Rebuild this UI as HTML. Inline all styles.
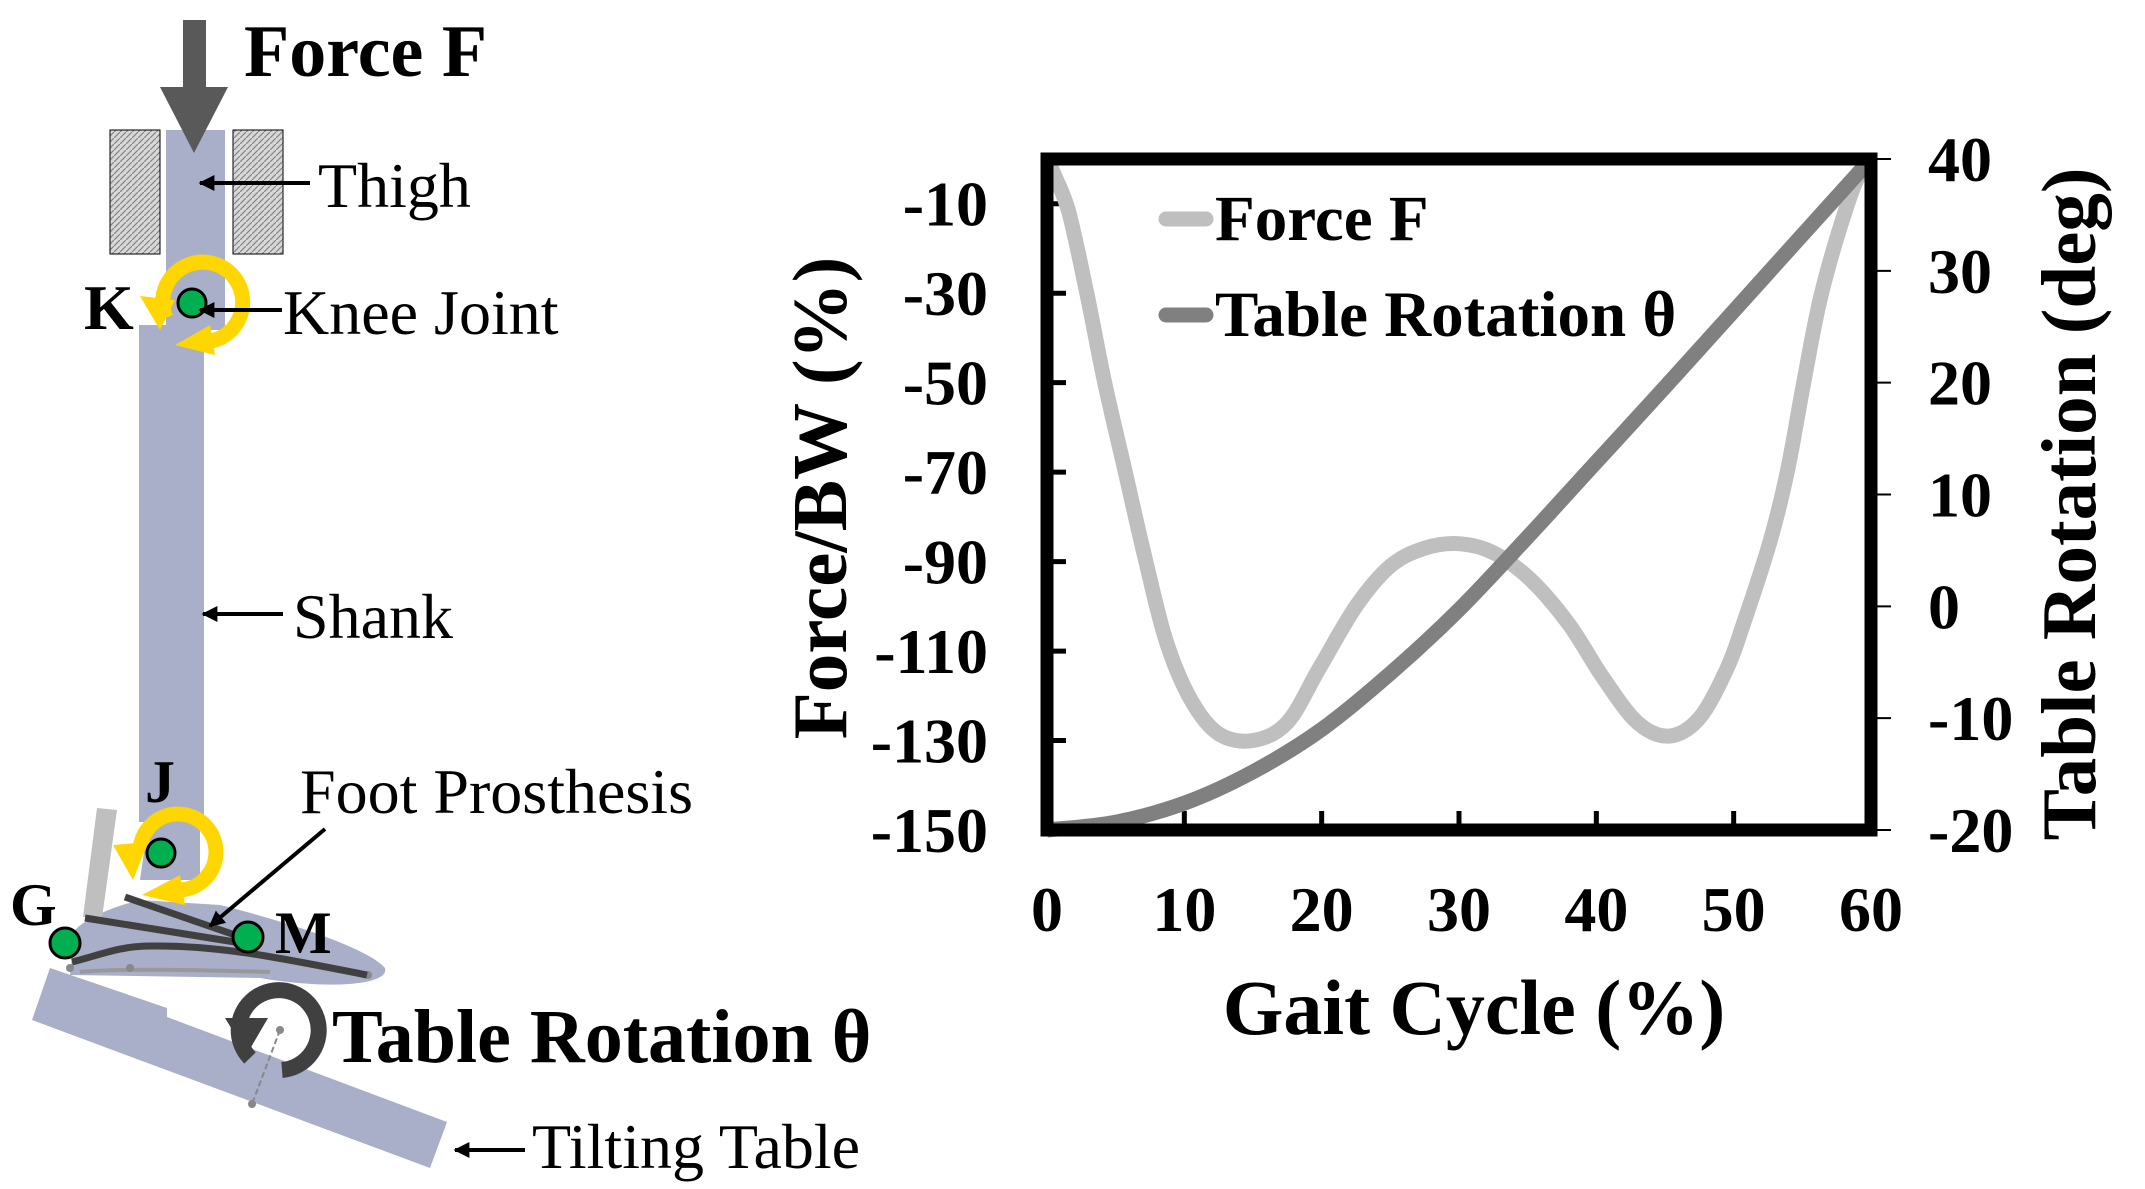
<!DOCTYPE html>
<html><head><meta charset="utf-8"><style>
html,body{margin:0;padding:0;background:#fff;}
svg{display:block;}
text{font-family:"Liberation Serif","Times New Roman",serif;}
.b{font-weight:bold;}
</style></head><body>
<svg id="s" width="2145" height="1189" viewBox="0 0 2145 1189" xmlns="http://www.w3.org/2000/svg">
<defs>
<pattern id="hatch" width="6" height="6" patternUnits="userSpaceOnUse">
<rect width="6" height="6" fill="#d8d8d8"/>
<path d="M0,6 L6,0" stroke="#888" stroke-width="1.3"/>
</pattern>
<marker id="ah" viewBox="0 0 10 10" refX="9" refY="5" markerWidth="4" markerHeight="4" orient="auto"><path d="M0,0 L10,5 L0,10 z" fill="#000"/></marker>
</defs>

<polygon points="50,968 167,1008 167,1017 447,1122 430,1168 32,1020" fill="#a9aec9"/>
<line x1="280" y1="1030" x2="252" y2="1104" stroke="#888" stroke-width="2" stroke-dasharray="6,3"/>
<circle cx="280" cy="1030" r="4" fill="#888"/><circle cx="252" cy="1104" r="4" fill="#888"/>
<path d="M75,930 C90,915 120,905 140,900 L220,905 C300,925 370,950 385,968 C390,985 330,990 260,978 L70,975 Z" fill="#a9aec9"/>
<path d="M80,972 C120,968 200,970 270,972" stroke="#999" stroke-width="4" fill="none"/>
<circle cx="70" cy="968" r="4" fill="#888"/><circle cx="130" cy="968" r="4" fill="#888"/><circle cx="368" cy="975" r="4" fill="#888"/>
<rect x="166" y="130" width="59" height="200" fill="#a9aec9"/>
<rect x="139" y="325" width="65" height="497" fill="#a9aec9"/>
<polygon points="150,810 200,810 200,880 140,880" fill="#a9aec9"/>
<rect x="110" y="130" width="50" height="124" fill="url(#hatch)" stroke="#000" stroke-width="1"/>
<rect x="233" y="130" width="50" height="124" fill="url(#hatch)" stroke="#000" stroke-width="1"/>
<rect x="183" y="20" width="23" height="67" fill="#595959"/>
<polygon points="160,87 228,87 194,153" fill="#595959"/>
<path d="M166,318 A40,40 0 1,1 205,342" stroke="#ffd600" stroke-width="15" fill="none"/>
<polygon points="140,296 175,300 160,330" fill="#ffd600"/>
<polygon points="210,325 215,355 175,345" fill="#ffd600"/>
<circle cx="192" cy="303" r="14" fill="#00b050" stroke="#000" stroke-width="3"/>
<polygon points="97,808 117,810 102,918 83,917" fill="#bfbfbf"/>
<path d="M140,850 A38,38 0 1,1 180,890" stroke="#ffd600" stroke-width="15" fill="none"/>
<polygon points="113,845 148,842 133,880" fill="#ffd600"/>
<polygon points="180,875 185,905 142,895" fill="#ffd600"/>
<circle cx="161" cy="853" r="14" fill="#00b050" stroke="#000" stroke-width="3"/>
<path d="M85,918 L235,942" stroke="#404040" stroke-width="7"/>
<path d="M125,897 L235,935" stroke="#404040" stroke-width="7"/>
<path d="M72,962 C100,955 120,946 150,946 C220,945 280,958 367,975" stroke="#404040" stroke-width="7" fill="none"/>
<circle cx="65" cy="943" r="15" fill="#00b050" stroke="#000" stroke-width="3"/>
<circle cx="248" cy="937" r="15" fill="#00b050" stroke="#000" stroke-width="3"/>
<path d="M250,1058 A40,40 0 1,1 282,1070" stroke="#404040" stroke-width="16" fill="none"/>
<polygon points="225,1018 268,1018 247,1054" fill="#404040"/>
<line x1="310" y1="183" x2="200" y2="183" stroke="#000" stroke-width="4" marker-end="url(#ah)"/>
<line x1="282" y1="310" x2="200" y2="310" stroke="#000" stroke-width="4" marker-end="url(#ah)"/>
<line x1="283" y1="614" x2="203" y2="614" stroke="#000" stroke-width="4" marker-end="url(#ah)"/>
<line x1="325" y1="829" x2="210" y2="926" stroke="#000" stroke-width="4" marker-end="url(#ah)"/>
<line x1="525" y1="1150" x2="455" y2="1150" stroke="#000" stroke-width="4" marker-end="url(#ah)"/>
<text x="244" y="76" class="b" font-size="74">Force F</text>
<text x="318" y="207" font-size="64">Thigh</text>
<text x="84" y="329" class="b" font-size="64">K</text>
<text x="283" y="334" font-size="64">Knee Joint</text>
<text x="293" y="638" font-size="64">Shank</text>
<text x="145" y="802" class="b" font-size="60">J</text>
<text x="300" y="813" font-size="64">Foot Prosthesis</text>
<text x="10" y="925" class="b" font-size="60">G</text>
<text x="275" y="953" class="b" font-size="60">M</text>
<text x="332" y="1062" class="b" font-size="76">Table Rotation θ</text>
<text x="532" y="1168" font-size="64">Tilting Table</text>

<g id="ticks" stroke="#000"></g>
<path id="force" fill="none" stroke="#bfbfbf" stroke-width="15" stroke-linejoin="round"/>
<path id="rot" fill="none" stroke="#808080" stroke-width="15" stroke-linejoin="round"/>
<rect x="1047" y="159" width="824" height="671" fill="none" stroke="#000" stroke-width="13"/>
<line x1="1166" y1="219" x2="1206" y2="219" stroke="#bfbfbf" stroke-width="15" stroke-linecap="round"/>
<text x="1215" y="240" class="b" font-size="65">Force F</text>
<line x1="1166" y1="315" x2="1206" y2="315" stroke="#808080" stroke-width="15" stroke-linecap="round"/>
<text x="1215" y="336" class="b" font-size="65">Table Rotation θ</text>
<g id="labels" class="b" font-size="64"></g>
<text x="1474" y="1034" class="b" font-size="78" text-anchor="middle">Gait Cycle (%)</text>
<text transform="translate(846,498) rotate(-90)" class="b" font-size="77" text-anchor="middle">Force/BW (%)</text>
<text transform="translate(2095,504) rotate(-90)" class="b" font-size="77" text-anchor="middle">Table Rotation (deg)</text>
</svg>
<script>
var NS="http://www.w3.org/2000/svg";
function X(g){return 1047+g*824/60;}
function YL(v){return 159+(-v)*671/150;}
function YR(v){return 159+(40-v)*671/60;}
var tk=document.getElementById('ticks'),lb=document.getElementById('labels');
function ln(x1,y1,x2,y2,w){var l=document.createElementNS(NS,'line');l.setAttribute('x1',x1);l.setAttribute('y1',y1);l.setAttribute('x2',x2);l.setAttribute('y2',y2);l.setAttribute('stroke-width',w);tk.appendChild(l);}
function tx(x,y,s,a){var t=document.createElementNS(NS,'text');t.setAttribute('x',x);t.setAttribute('y',y);t.setAttribute('text-anchor',a);t.textContent=s;lb.appendChild(t);}
for(var v=-10;v>=-150;v-=20){ln(1047,YL(v),1066,YL(v),5);tx(988,YL(v)+22,String(v),'end');}
for(var r=-20;r<=40;r+=10){ln(1871,YR(r),1891,YR(r),2);tx(1928,YR(r)+22,String(r),'start');}
for(var g=0;g<=60;g+=10){ln(X(g),830,X(g),811,5);tx(X(g),931,String(g),'middle');}
function cr(pts){var d='M'+pts[0][0]+','+pts[0][1];for(var i=0;i<pts.length-1;i++){var p0=pts[i-1]||pts[i],p1=pts[i],p2=pts[i+1],p3=pts[i+2]||p2;
var c1=[p1[0]+(p2[0]-p0[0])/6,p1[1]+(p2[1]-p0[1])/6],c2=[p2[0]-(p3[0]-p1[0])/6,p2[1]-(p3[1]-p1[1])/6];
d+=' C'+c1[0].toFixed(1)+','+c1[1].toFixed(1)+' '+c2[0].toFixed(1)+','+c2[1].toFixed(1)+' '+p2[0].toFixed(1)+','+p2[1].toFixed(1);}return d;}
var F=[[0,0],[0.6,-4],[1.6,-12],[2.9,-30],[4.2,-50],[5.7,-70],[7.2,-90],[8.7,-108],[10.5,-121],[12.5,-128.5],[15,-130],[17.5,-126],[19.8,-114],[22.5,-100],[25,-91],[27.5,-87],[30,-86],[32.5,-88],[35.2,-94],[38,-104],[40.5,-116],[43,-126],[45.3,-129],[47.5,-125],[49.5,-114],[50.7,-104],[52.6,-86],[53.9,-70],[55.1,-50],[56.4,-30],[58.3,-10],[59.4,-2],[60,0]];
document.getElementById('force').setAttribute('d',cr(F.map(function(p){return [X(p[0]),YL(p[1])];})));
var R=[[0,-20],[5,-19.3],[10,-17.6],[15,-14.8],[20,-11],[25,-6],[30,-0.3],[35,6.2],[40,12.9],[45,19.6],[50,26.4],[55,33.2],[60,40]];
document.getElementById('rot').setAttribute('d',cr(R.map(function(p){return [X(p[0]),YR(p[1])];})));
</script>
</body></html>
